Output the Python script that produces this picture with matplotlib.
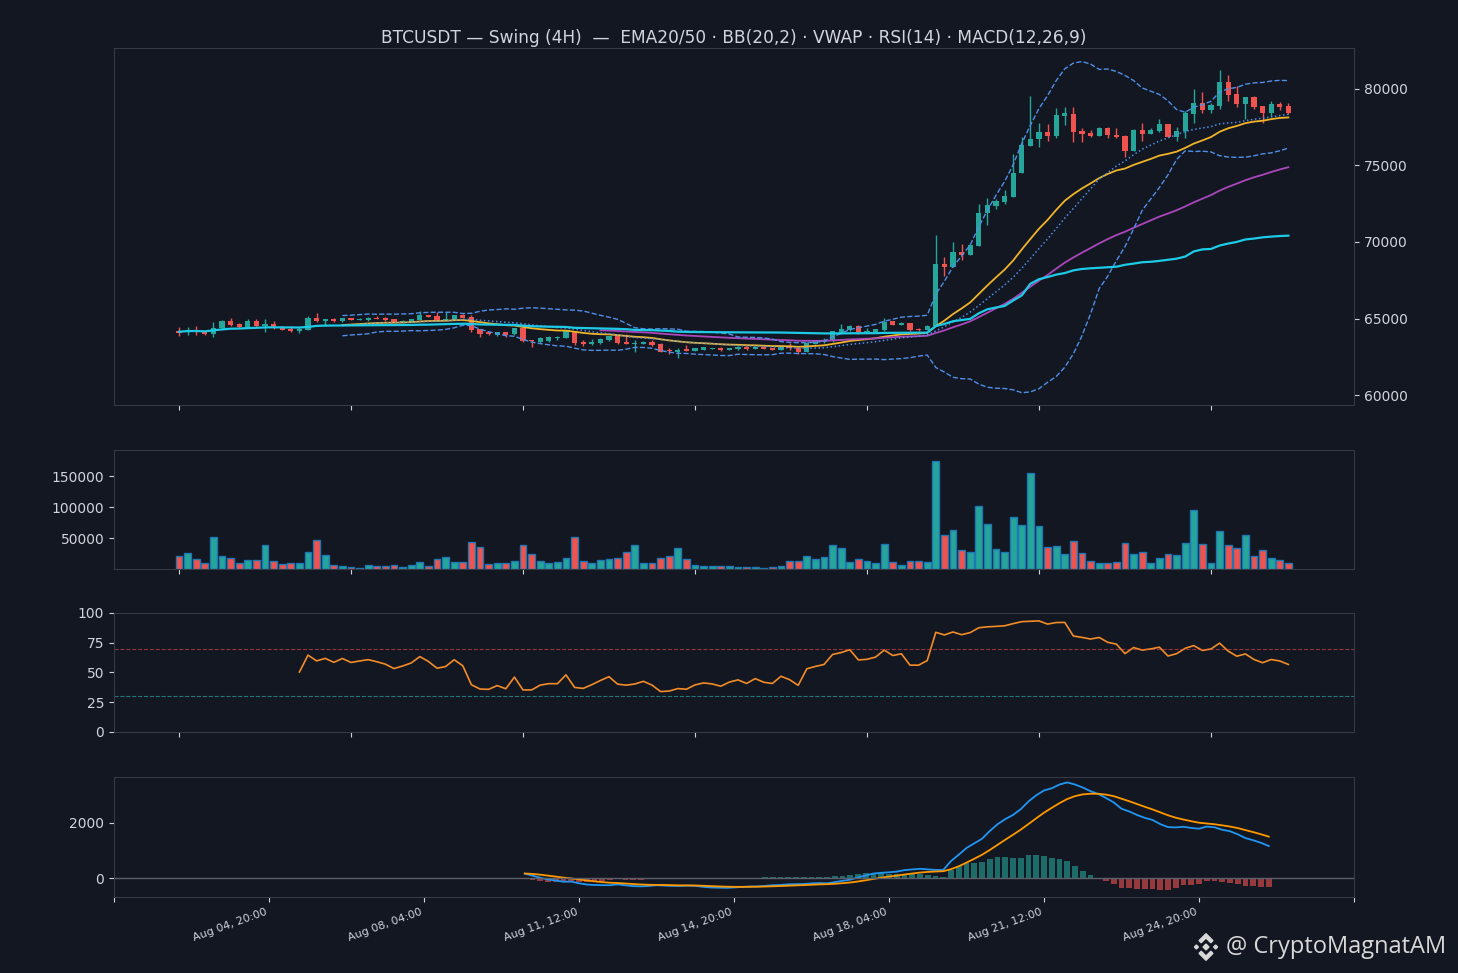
#!/usr/bin/env python3

import numpy as np
import pandas as pd
import matplotlib
matplotlib.use("Agg")
import matplotlib.pyplot as plt
from matplotlib.patches import Polygon

# BTCUSDT 4H candles (130 bars from Aug 04 20:00)
start_time = "2025-08-04 20:00"

opens = [64200, 64100, 64230, 64160, 64010, 64360, 64840, 64640, 64440, 64840,
         64510, 64640, 64420, 64310, 64180, 64250, 65030, 64840, 64970, 64840,
         65030, 64920, 64900, 65010, 65030, 64970, 64790, 64790, 64900, 65230,
         65160, 64920, 64900, 65230, 65120, 64290, 64100, 63920, 64100, 63960,
         64400, 63620, 63440, 63530, 63750, 63750, 64140, 63490, 63330, 63420,
         63600, 63860, 63490, 63330, 63330, 63490, 63350, 62940, 62790, 62990,
         62900, 62970, 63030, 63090, 62940, 62990, 63160, 63010, 63140, 63070,
         62960, 63180, 63070, 62810, 63360, 63440, 63600, 64030, 64250, 64510,
         64100, 64100, 64250, 64840, 64600, 64700, 64330, 64250, 64510, 68560,
         68390, 69330, 69150, 69760, 71870, 72380, 72640, 72960, 74490, 76300,
         76710, 77190, 76930, 78260, 78370, 77280, 77150, 76930, 77450, 76970,
         76930, 75970, 77320, 77060, 77280, 77710, 76840, 77280, 78370, 79110,
         78630, 78910, 80460, 79670, 79020, 79500, 78910, 78450, 79040, 78910]

highs = [64460, 64460, 64500, 64170, 64750, 64900, 65010, 64680, 64970, 64970,
         64970, 64840, 64490, 64490, 64440, 65190, 65360, 64970, 65050, 65050,
         65050, 65030, 65120, 65140, 65100, 64990, 64900, 64990, 65470, 65250,
         65450, 65450, 65250, 65300, 65250, 64330, 64130, 64150, 64100, 64360,
         64460, 63620, 63790, 63880, 63880, 64200, 64200, 63570, 63640, 63720,
         63880, 63960, 63960, 63595, 63550, 63580, 63400, 63050, 63050, 63240,
         63050, 63140, 63090, 63120, 63100, 63200, 63200, 63200, 63180, 63100,
         63230, 63380, 63140, 63440, 63610, 63700, 64180, 64620, 64550, 64580,
         64400, 64330, 65050, 64860, 64790, 64730, 64400, 64600, 70460, 69000,
         70020, 69870, 69800, 72480, 72850, 72790, 73400, 75730, 76890, 79540,
         77800, 77690, 78740, 78800, 78800, 77430, 77320, 77540, 77540, 77430,
         77000, 77390, 77760, 77430, 78020, 77710, 77540, 78580, 79980, 79780,
         79110, 81240, 80920, 80200, 79500, 79540, 78910, 79220, 79150, 79060]

lows = [63870, 63920, 63920, 63940, 63810, 64320, 64530, 64360, 64400, 64440,
        64100, 64290, 64230, 64140, 64070, 64250, 64750, 64530, 64790, 64790,
        64880, 64880, 64860, 64960, 64860, 64750, 64730, 64770, 64880, 65080,
        64880, 64880, 64880, 65050, 64140, 63770, 63950, 63860, 63810, 63920,
        63440, 63160, 63380, 63490, 63570, 63750, 63270, 63230, 63270, 63310,
        63550, 63330, 63330, 62790, 63330, 63200, 62830, 62660, 62440, 62900,
        62880, 62950, 63000, 62880, 62920, 62970, 62970, 62990, 62980, 62920,
        62940, 62960, 62660, 62810, 63340, 63420, 63490, 63960, 64200, 63960,
        64040, 64050, 64180, 64600, 64570, 64200, 64180, 64240, 64510, 67800,
        68390, 68820, 69150, 69760, 71110, 72160, 72460, 72960, 74490, 76300,
        76190, 76580, 76780, 77630, 76510, 76510, 76840, 76930, 76780, 76780,
        75530, 75970, 76620, 77060, 77210, 76840, 76620, 76780, 77760, 78410,
        78450, 78670, 79240, 78800, 78040, 78670, 77760, 78260, 78630, 78340]

closes = [64080, 64250, 64180, 63990, 64360, 64840, 64580, 64440, 64840, 64510,
          64640, 64440, 64250, 64180, 64310, 65030, 64840, 64970, 64840, 65030,
          64900, 64970, 65030, 64970, 64900, 64770, 64860, 64970, 65230, 65100,
          64900, 64960, 65230, 65050, 64250, 63990, 63970, 64100, 63920, 64360,
          63550, 63550, 63750, 63810, 63810, 64180, 63400, 63330, 63490, 63680,
          63860, 63400, 63330, 63380, 63490, 63270, 62830, 62850, 62940, 62900,
          63050, 63120, 63070, 62960, 63090, 63160, 63010, 63160, 63010, 62960,
          63180, 63050, 62810, 63420, 63530, 63620, 64180, 64310, 64510, 64140,
          64180, 64310, 64790, 64590, 64710, 64250, 64250, 64510, 68560, 68390,
          69330, 69150, 69800, 71900, 72420, 72680, 73010, 74490, 76340, 76730,
          77190, 76930, 78300, 78410, 77210, 77080, 76930, 77450, 77020, 76860,
          75970, 77320, 77060, 77320, 77710, 76840, 77280, 78450, 79110, 78630,
          78950, 80460, 79610, 79020, 79500, 78850, 78450, 79020, 78850, 78450]

volumes = [20500, 25300, 15600, 10200, 51100, 20500, 17200, 10200, 14000, 14000,
           38200, 12400, 7500, 10200, 10200, 26900, 46200, 22000, 6000, 4300,
           2700, 2200, 6000, 4300, 4300, 6000, 2700, 6000, 10800, 4300,
           16100, 19400, 10800, 10800, 43000, 35000, 7500, 9100, 9100, 12900,
           38200, 23700, 12400, 9100, 10800, 17200, 51100, 12400, 9100, 14000,
           15600, 17200, 26900, 38200, 9100, 9100, 17200, 20500, 33400, 15600,
           6000, 4300, 4300, 4300, 4300, 2700, 2700, 2700, 1000, 2700,
           4300, 12400, 12400, 20400, 15600, 18800, 38200, 33300, 10800, 15600,
           12400, 9100, 39800, 10800, 5900, 12400, 12400, 10800, 173700, 54300,
           62400, 30100, 26900, 101100, 72000, 31700, 26900, 83300, 70400, 154300,
           68800, 34900, 36600, 23700, 44600, 25300, 12400, 9100, 9100, 10800,
           41400, 23700, 26900, 9100, 17200, 23700, 22000, 41400, 94600, 39800,
           9100, 60800, 38200, 33300, 54300, 20400, 30100, 17200, 14000, 9100]

main_yticks = [60000, 65000, 70000, 75000, 80000]
volume_yticks = [50000, 100000, 150000]
rsi_yticks = [0, 25, 50, 75, 100]
macd_yticks = [0, 2000]

BG = "#131722"
FRAME = "#363a45"
TXT = "#d1d4dc"
UP = "#26a69a"
DOWN = "#ef5350"


def style_axis(ax):
    ax.set_facecolor(BG)
    for s in ax.spines.values():
        s.set_color(FRAME)
    ax.tick_params(colors=TXT, labelsize=10)


def colors_hist(h):
    return np.where(h >= 0, UP, DOWN)


def main():
    df = pd.DataFrame({"open": opens, "high": highs, "low": lows,
                       "close": closes, "volume": volumes})
    df["time"] = pd.date_range(start_time, periods=len(df), freq="4h")
    idx = np.arange(len(df))
    up = df["close"] >= df["open"]
    colors = np.where(up, UP, DOWN)

    # indicators
    c = df["close"]
    ema20 = c.ewm(span=20, adjust=False, min_periods=20).mean()
    ema50 = c.ewm(span=50, adjust=False, min_periods=50).mean()
    bb_mid = c.rolling(20).mean()
    bb_std = c.rolling(20).std()
    bb_up = bb_mid + 2 * bb_std
    bb_lo = bb_mid - 2 * bb_std
    tp = (df["high"] + df["low"] + df["close"]) / 3
    vwap = (tp * df["volume"]).cumsum() / df["volume"].cumsum()

    # rsi, wilder style smoothing
    delta = c.diff()
    gain = delta.clip(lower=0).ewm(com=13, min_periods=14).mean()
    loss = (-delta.clip(upper=0)).ewm(com=13, min_periods=14).mean()
    rsi = 100 - 100 / (1 + gain / loss)

    ema12 = c.ewm(span=12, adjust=False, min_periods=12).mean()
    ema26 = c.ewm(span=26, adjust=False, min_periods=26).mean()
    macd = ema12 - ema26
    signal = macd.ewm(span=9, adjust=False, min_periods=9).mean()
    hist = macd - signal
    ok = signal.notna()

    fig = plt.figure(figsize=(14.58, 9.73), dpi=100, facecolor=BG)
    left, width = 114 / 1458, 1240 / 1458
    ax = fig.add_axes([left, 0.5838, width, 0.3669])
    axv = fig.add_axes([left, 0.4152, width, 0.1223])
    axr = fig.add_axes([left, 0.2477, width, 0.1223])
    axm = fig.add_axes([left, 0.0781, width, 0.1233])
    for a in (ax, axv, axr, axm):
        style_axis(a)

    # price panel
    ax.vlines(idx, df["low"], df["high"], colors=colors, linewidth=1, zorder=2)
    body_lo = np.minimum(df["open"], df["close"])
    body_h = np.maximum((df["close"] - df["open"]).abs(), 25)
    ax.bar(idx, body_h, bottom=body_lo, width=0.6, color=colors, zorder=3)
    ax.plot(idx, ema20, color="#f0b429", linewidth=1.3, zorder=4)
    ax.plot(idx, ema50, color="#ab47bc", linewidth=1.3, zorder=4)
    ax.plot(idx, bb_up, color="#4f8fe6", linewidth=1, linestyle="--", zorder=4)
    ax.plot(idx, bb_lo, color="#4f8fe6", linewidth=1, linestyle="--", zorder=4)
    ax.plot(idx, bb_mid, color="#4f8fe6", linewidth=1.1, linestyle=":", zorder=4)
    ax.plot(idx, vwap, color="#1ecbe6", linewidth=1.6, zorder=4)
    ax.set_ylim(59350, 82680)
    ax.set_yticks(main_yticks)
    ax.yaxis.tick_right()
    ax.set_title("BTCUSDT — Swing (4H)  —  EMA20/50 · BB(20,2) · VWAP · RSI(14) · MACD(12,26,9)",
                 color=TXT, fontsize=12.25, pad=3.5)

    # volume panel
    axv.bar(idx, df["volume"], width=0.8, color=colors, edgecolor="#1f77b4", linewidth=1)
    axv.set_ylim(0, 192000)
    axv.set_yticks(volume_yticks)

    # rsi panel
    axr.plot(idx, rsi, color="#f28c28", linewidth=1.2)
    axr.axhline(70, color=DOWN, linestyle="--", linewidth=0.8, alpha=0.55)
    axr.axhline(30, color=UP, linestyle="--", linewidth=0.8, alpha=0.7)
    axr.set_ylim(0, 100)
    axr.set_yticks(rsi_yticks)

    for a in (ax, axv, axr):
        a.set_xlim(-7.56, 136.63)
        a.set_xticks(np.arange(0, 121, 20))
        a.tick_params(axis="x", labelbottom=False)

    # macd panel (date axis)
    t = df["time"][ok]
    axm.bar(t, hist[ok], width=0.12, color=colors_hist(hist[ok]), alpha=0.6)
    axm.plot(t, macd[ok], color="#2196f3", linewidth=1.3)
    axm.plot(t, signal[ok], color="#ff9800", linewidth=1.3)
    axm.axhline(0, color="#5d606b", linewidth=1)
    axm.set_ylim(-690, 3670)
    axm.set_yticks(macd_yticks)
    t0 = pd.Timestamp("2025-08-01 12:00")
    ticks = [t0 + pd.Timedelta(hours=80 * k) for k in range(9)]
    axm.set_xlim(ticks[0], ticks[-1])
    axm.set_xticks(ticks)
    labels = [""] + [x.strftime("%b %d, %H:%M") for x in ticks[1:-1]] + [""]
    axm.set_xticklabels(labels, rotation=20, ha="right", fontsize=8)

    # watermark
    fig.text(1226 / 1458, 1 - 947 / 973, "@ CryptoMagnatAM", color="#d8d8d8",
             fontsize=17, family=["Open Sans", "DejaVu Sans"], va="center", ha="left")
    logo = fig.add_axes([1192 / 1458, 1 - 961 / 973, 28 / 1458, 28 / 973])
    logo.set_xlim(-1.05, 1.05)
    logo.set_ylim(-1.05, 1.05)
    logo.axis("off")
    shapes = [
        [(0, 0.22), (0.22, 0), (0, -0.22), (-0.22, 0)],
        [(-0.72, 0.15), (-0.57, 0), (-0.72, -0.15), (-0.87, 0)],
        [(0.72, 0.15), (0.87, 0), (0.72, -0.15), (0.57, 0)],
        [(-0.52, 0.48), (0, 1.0), (0.52, 0.48), (0.36, 0.32), (0, 0.68), (-0.36, 0.32)],
        [(-0.52, -0.48), (0, -1.0), (0.52, -0.48), (0.36, -0.32), (0, -0.68), (-0.36, -0.32)],
    ]
    for s in shapes:
        logo.add_patch(Polygon(s, closed=True, color="#d8d8d8"))

    fig.savefig("out.png", dpi=100, facecolor=BG)
    plt.close(fig)


if __name__ == "__main__":
    main()
